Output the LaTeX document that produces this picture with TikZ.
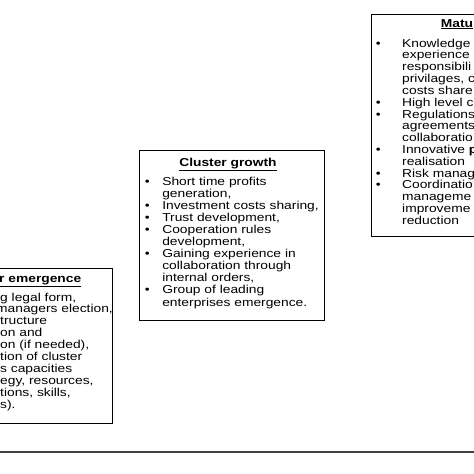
\documentclass[tikz,border=0pt]{standalone}
\usepackage{fontspec}
\setmainfont{Liberation Sans}[FakeStretch=1.2]
\usetikzlibrary{positioning}

\newlength{\bulw}
\newcommand{\itm}{\makebox[\bulw][l]{\textbullet}}
\newcommand{\cnt}{\hspace*{\bulw}}

\begin{document}
\begin{tikzpicture}[
        x=1pt, y=-1pt,
        every node/.style={font=\fontsize{11.5}{12}\selectfont, inner sep=0pt},
        stagebox/.style={draw, rectangle, line width=1.2pt, fill=white},
        stagetitle/.style={font=\fontsize{11.5}{12}\selectfont\bfseries, anchor=base west},
        stagelist/.style={anchor=base west, font=\fontsize{11.5}{#1}\selectfont}
    ]
        \useasboundingbox (0,0) rectangle (474,474);
        \clip (0,0) rectangle (474,474);

        % Riquadri
        \node [stagebox, anchor=north east, minimum width=140, minimum height=155] (emergence) at (113,268) {};
        \node [stagebox, anchor=north west, minimum width=185, minimum height=170] (growth) at (139,150) {};
        \node [stagebox, anchor=north west, minimum width=140, minimum height=222] (maturity) at (371,14) {};

        % Titoli
        \node [stagetitle] (emergencetitle) at (-1,282) {\underline{r emergence}};
        \node [stagetitle, anchor=base] (growthtitle) at (228,166) {\underline{Cluster growth}};
        \node [stagetitle] (maturitytitle) at (440.7,27) {\underline{Matu}};

        % Elenchi
        \node [stagelist=11.95] (emergencelist) at (0,301) {%
            \begin{tabular}[t]{@{}l@{}}
            g legal form,\\
            \hspace*{-4pt}managers election,\\
            tructure\\
            on and\\
            on (if needed),\\
            tion of cluster\\
            s capacities\\
            egy, resources,\\
            tions, skills,\\
            s).
            \end{tabular}};
        \node [stagelist=12.1] (growthlist) at (144.6,185) {%
            \setlength{\bulw}{17.5pt}%
            \begin{tabular}[t]{@{}l@{}}
            \itm Short time profits\\
            \cnt generation,\\
            \itm Investment costs sharing,\\
            \itm Trust development,\\
            \itm Cooperation rules\\
            \cnt development,\\
            \itm Gaining experience in\\
            \cnt collaboration through\\
            \cnt internal orders,\\
            \itm Group of leading\\
            \cnt enterprises emergence.
            \end{tabular}};
        \node [stagelist=11.67] (maturitylist) at (375.6,47) {%
            \setlength{\bulw}{26.4pt}%
            \begin{tabular}[t]{@{}l@{}}
            \itm Knowledge\\
            \cnt experience\\
            \cnt responsibili\\
            \cnt privilages, c\\
            \cnt costs share\\
            \itm High level c\\
            \itm Regulations\\
            \cnt agreements\\
            \cnt collaboratio\\
            \itm Innovative \textbf{p}\\
            \cnt realisation\\
            \itm Risk manag\\
            \itm Coordinatio\\
            \cnt manageme\\
            \cnt improveme\\
            \cnt reduction
            \end{tabular}};

        % Asse
        \coordinate (axisL) at (0,452);
        \coordinate (axisR) at (474,452);
        \draw [line width=1.5pt, black!75] (axisL) -- (axisR);
\end{tikzpicture}
\end{document}
